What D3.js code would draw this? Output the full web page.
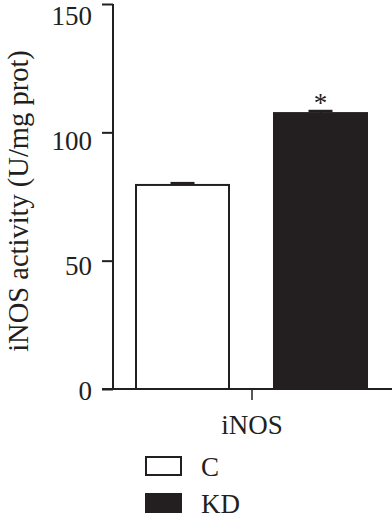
<!DOCTYPE html>
<html><head><meta charset="utf-8">
<script src="https://cdn.jsdelivr.net/npm/d3@7"></script>
<style>body{margin:0;background:#fff}svg{display:block}text{font-family:"Liberation Serif","DejaVu Serif",serif;fill:#231f20}</style>
</head><body>
<svg id="c" width="392" height="523"></svg>
<script>
const groups = ["C", "KD"];
const values = [79.5, 107.5];
const errors = [0.7, 0.8];
const category = "iNOS";
const yTicks = [0, 50, 100, 150];
const yTitle = "iNOS activity (U/mg prot)";
const sigMark = ["", "*"];

const svg = d3.select("#c");
const ink = "#231f20";
const FS = 27;
const y = d3.scaleLinear().domain([0, 150]).range([389, 4]);
const x1 = d3.scaleBand().domain(groups).range([136, 367]).paddingInner(0.326);
// label baseline offset below each tick (the labels sit slightly low in the original)
const labelOffset = d3.scaleLinear().domain([0, 150]).range([10, 20]);

// y axis
const ya = svg.append("g").attr("transform", "translate(113,0)")
  .call(d3.axisLeft(y).tickValues(yTicks).tickSize(11).tickPadding(10));
ya.attr("font-family", null).attr("font-size", null);
ya.select(".domain").attr("stroke", ink).attr("stroke-width", 2).attr("d", "M0,4V389");
ya.selectAll(".tick line").attr("stroke", ink).attr("stroke-width", 2);
ya.selectAll(".tick text").attr("font-size", FS).attr("fill", ink).attr("dy", null).attr("y", d => labelOffset(d));

// x axis
svg.append("line").attr("x1", 102).attr("x2", 392).attr("y1", y(0)).attr("y2", y(0)).attr("stroke", ink).attr("stroke-width", 2);
svg.append("line").attr("x1", 252).attr("x2", 252).attr("y1", y(0)).attr("y2", 400).attr("stroke", ink).attr("stroke-width", 1.5);
svg.append("text").attr("x", 252).attr("y", 434).attr("text-anchor", "middle").attr("font-size", FS).text(category);

// bars
const data = groups.map((g, i) => ({g, v: values[i], e: errors[i], s: sigMark[i]}));
svg.selectAll("rect.bar").data(data).enter().append("rect")
  .attr("x", d => x1(d.g)).attr("width", x1.bandwidth())
  .attr("y", d => y(d.v)).attr("height", d => y(0) - y(d.v))
  .attr("fill", (d, i) => i ? ink : "#fff").attr("stroke", ink).attr("stroke-width", 2);
// error bars
data.forEach(d => {
  const cx = x1(d.g) + x1.bandwidth() / 2;
  svg.append("line").attr("x1", cx).attr("x2", cx).attr("y1", y(d.v)).attr("y2", y(d.v + d.e)).attr("stroke", ink).attr("stroke-width", 2);
  svg.append("line").attr("x1", cx - 12).attr("x2", cx + 12).attr("y1", y(d.v + d.e)).attr("y2", y(d.v + d.e)).attr("stroke", ink).attr("stroke-width", 2.5);
  if (d.s) svg.append("text").attr("x", cx).attr("y", y(d.v + d.e) + 1).attr("text-anchor", "middle").attr("font-size", FS).text(d.s);
});

// y title
svg.append("text").attr("transform", "translate(28,201) rotate(-90)").attr("text-anchor", "middle").attr("font-size", 28.5).text(yTitle);

// legend
groups.forEach((g, i) => {
  const ly = 457 + i * 37;
  svg.append("rect").attr("x", 146).attr("y", ly).attr("width", 35).attr("height", 18)
    .attr("fill", i ? ink : "#fff").attr("stroke", ink).attr("stroke-width", 2);
  svg.append("text").attr("x", 201).attr("y", ly + 19).attr("font-size", FS).text(g);
});
</script>
</body></html>
